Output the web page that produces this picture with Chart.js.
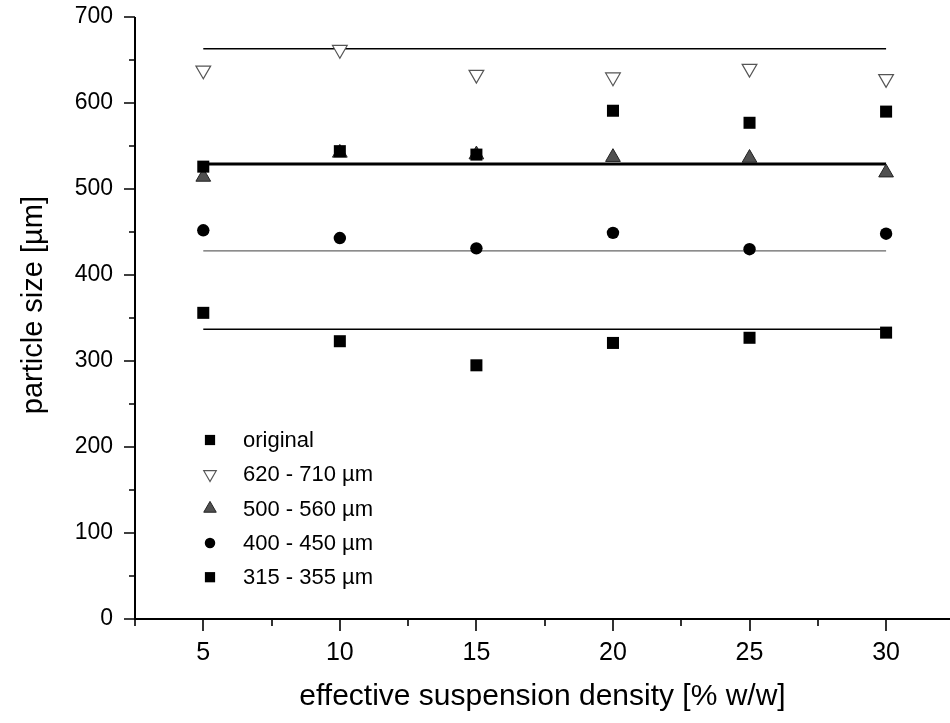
<!DOCTYPE html>
<html>
<head>
<meta charset="utf-8">
<script src="https://cdn.jsdelivr.net/npm/chart.js@4.4.0/dist/chart.umd.min.js"></script>
<style>
  body { margin: 0; background: #fff; overflow: hidden; }
  #wrap { width: 950px; height: 723px; }
</style>
</head>
<body>
<div id="wrap"><canvas id="chart"></canvas></div>
<script>
// values
const densities = [5, 10, 15, 20, 25, 30];
const original = [526, 544, 540, 591, 577, 590];
const size620 = [638, 662, 633, 630, 640, 628];
const size500 = [514, 542, 540, 537, 536, 519];
const size400 = [452, 443, 431, 449, 430, 448];
const size315 = [356, 323, 295, 321, 327, 333];
const meanLevels = [663, 529, 428, 337];   // horizontal lines: 620-710, 500-560, 400-450, 315-355
const seriesNames = ["original", "620 - 710 µm", "500 - 560 µm", "400 - 450 µm", "315 - 355 µm"];
const yTitle = "particle size [µm]";

const xTickValues = [5, 10, 15, 20, 25, 30];
const xMinorValues = [2.5, 7.5, 12.5, 17.5, 22.5, 27.5, 32.5];
const yTickValues = [0, 100, 200, 300, 400, 500, 600, 700];
const yMinorValues = [50, 150, 250, 350, 450, 550, 650];

const plain = "'Liberation Sans', Arial, sans-serif";

function points(ys) {
    return ys.map((y, i) => ({ x: densities[i], y: y }));
}
function meanLine(v) {
    return [{ x: densities[0], y: v }, { x: densities[densities.length - 1], y: v }];
}

const markerSets = [
    { label: seriesNames[0], data: points(original), pointStyle: "rect", pointRadius: 8.5,
      pointBackgroundColor: "#000", pointBorderColor: "#000", pointBorderWidth: 0, rotation: 0 },
    { label: seriesNames[1], data: points(size620), pointStyle: "triangle", pointRadius: 8.5,
      pointBackgroundColor: "#fff", pointBorderColor: "#555", pointBorderWidth: 1.2, rotation: 180 },
    { label: seriesNames[2], data: points(size500), pointStyle: "triangle", pointRadius: 8.5,
      pointBackgroundColor: "#505050", pointBorderColor: "#222", pointBorderWidth: 1, rotation: 0 },
    { label: seriesNames[3], data: points(size400), pointStyle: "circle", pointRadius: 6.2,
      pointBackgroundColor: "#000", pointBorderColor: "#000", pointBorderWidth: 0, rotation: 0 },
    { label: seriesNames[4], data: points(size315), pointStyle: "rect", pointRadius: 8.5,
      pointBackgroundColor: "#000", pointBorderColor: "#000", pointBorderWidth: 0, rotation: 0 }
];

const lineColors = ["#000", "#000", "#666", "#000"];
const lineWidths = [1.4, 3, 1.4, 1.4];

const datasets = [];
markerSets.forEach((m, i) => {
    datasets.push(Object.assign({ type: "scatter", showLine: false, order: i }, m));
});
meanLevels.forEach((v, i) => {
    datasets.push({
        type: "line", label: "mean " + i, data: meanLine(v),
        borderColor: lineColors[i], borderWidth: lineWidths[i],
        pointRadius: 0, fill: false, order: 10 + i
    });
});

// axis lines, tick marks, y title and legend
const decorations = {
    id: "decorations",
    afterDraw(chart) {
        const ctx = chart.ctx;
        const xs = chart.scales.x, ys = chart.scales.y;
        const a = chart.chartArea;
        ctx.save();
        ctx.strokeStyle = "#000";
        ctx.lineWidth = 2;
        ctx.beginPath();
        ctx.moveTo(a.left, a.top);
        ctx.lineTo(a.left, a.bottom);
        ctx.lineTo(a.right, a.bottom);
        ctx.stroke();

        ctx.lineWidth = 1.6;
        ctx.beginPath();
        xTickValues.forEach(v => {
            const px = Math.round(xs.getPixelForValue(v));
            ctx.moveTo(px, a.bottom); ctx.lineTo(px, a.bottom + 12);
        });
        xMinorValues.forEach(v => {
            const px = Math.round(xs.getPixelForValue(v));
            if (px > a.right) return;
            ctx.moveTo(px, a.bottom); ctx.lineTo(px, a.bottom + 7);
        });
        yTickValues.forEach(v => {
            const py = Math.round(ys.getPixelForValue(v));
            ctx.moveTo(a.left, py); ctx.lineTo(a.left - 11, py);
        });
        yMinorValues.forEach(v => {
            const py = Math.round(ys.getPixelForValue(v));
            ctx.moveTo(a.left, py); ctx.lineTo(a.left - 6, py);
        });
        ctx.stroke();

        // y axis title, sits a bit above the middle
        ctx.save();
        ctx.translate(34, ys.getPixelForValue(365));
        ctx.rotate(-Math.PI / 2);
        ctx.font = "29px " + plain;
        ctx.fillStyle = "#000";
        ctx.textAlign = "center";
        ctx.textBaseline = "middle";
        ctx.fillText(yTitle, 0, 0);
        ctx.restore();

        // legend inside the plot
        const lx = a.left + 75, ly = 440, step = 34.3;
        ctx.font = "22px " + plain;
        ctx.textBaseline = "middle";
        markerSets.forEach((m, i) => {
            const y = ly + i * step;
            ctx.fillStyle = m.pointBackgroundColor;
            ctx.strokeStyle = m.pointBorderColor;
            ctx.lineWidth = m.pointBorderWidth;
            Chart.helpers.drawPoint(ctx, {
                pointStyle: m.pointStyle, radius: m.pointRadius * 0.85,
                rotation: m.rotation, borderWidth: m.pointBorderWidth
            }, lx, y);
            ctx.fillStyle = "#000";
            ctx.fillText(m.label, a.left + 108, y + 1);
        });
        ctx.restore();
    }
};

new Chart(document.getElementById("chart"), {
    type: "scatter",
    data: { datasets: datasets },
    plugins: [decorations],
    options: {
        responsive: true,
        maintainAspectRatio: false,
        animation: false,
        devicePixelRatio: 1,
        layout: { autoPadding: false, padding: { top: 17, right: 0, left: 0, bottom: 0 } },
        plugins: { legend: { display: false }, tooltip: { enabled: false } },
        elements: { point: { hoverRadius: 0 } },
        scales: {
            x: {
                type: "linear", min: 2.5, max: 32.34,
                afterBuildTicks: s => { s.ticks = xTickValues.map(v => ({ value: v })); },
                afterFit: s => { s.height = 104; s.paddingLeft = 0; s.paddingRight = 0; },
                grid: { display: true, drawOnChartArea: false, color: "rgba(0,0,0,0)", tickLength: 12 },
                border: { display: false },
                ticks: { color: "#000", padding: 7, maxRotation: 0, font: { family: plain, size: 25 } },
                title: { display: true, text: "effective suspension density [% w/w]", color: "#000",
                         padding: { top: 0, bottom: 8 }, font: { family: plain, size: 30 } }
            },
            y: {
                type: "linear", min: 0, max: 700,
                afterBuildTicks: s => { s.ticks = yTickValues.map(v => ({ value: v })); },
                afterFit: s => { s.width = 135; s.paddingTop = 0; s.paddingBottom = 0; },
                grid: { display: true, drawOnChartArea: false, color: "rgba(0,0,0,0)", tickLength: 11 },
                border: { display: false },
                ticks: { color: "#000", padding: 11, font: { family: plain, size: 23 } },
                title: { display: false }
            }
        }
    }
});
</script>
</body>
</html>
